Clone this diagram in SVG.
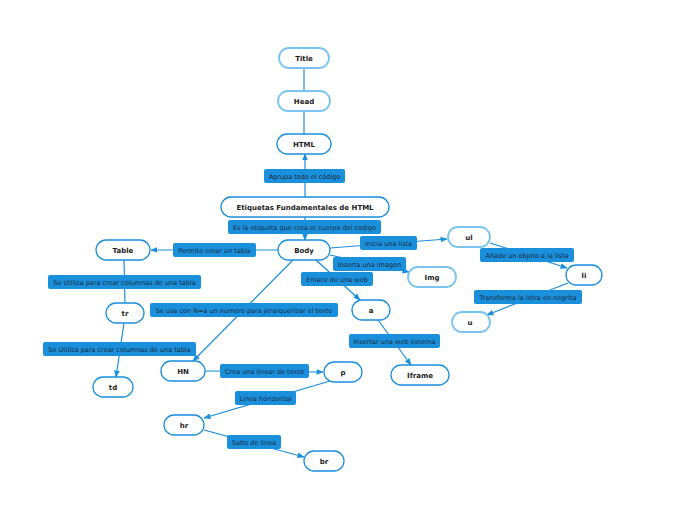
<svg xmlns="http://www.w3.org/2000/svg" width="697" height="520" viewBox="0 0 697 520">
<style>
.n{fill:#fff;stroke:#1a8fdc;stroke-width:1.3}
.nl{fill:#fff;stroke:#7cc4f0;stroke-width:1.8}
.nt{font-family:"DejaVu Sans",sans-serif;font-size:7px;font-weight:bold;fill:#222;text-anchor:middle}
.lb{fill:#1a8fdc}
.lt{font-family:"DejaVu Sans",sans-serif;font-size:6.5px;fill:#1d2d3d;text-anchor:middle}
.c{stroke:#1a8fdc;stroke-width:1.2;fill:none}
</style>
<defs><marker id="a" viewBox="0 0 10 10" refX="9" refY="5" markerWidth="6" markerHeight="6" orient="auto"><path d="M0,1L10,5L0,9z" fill="#1a8fdc"/></marker></defs>
<g id="connectors">
<path class="c" d="M304,68V91"/>
<path class="c" d="M304,111V134"/>
<path class="c" d="M305,197V154" marker-end="url(#a)"/>
<path class="c" d="M305,217V240" marker-end="url(#a)"/>
<path class="c" d="M278,250H151" marker-end="url(#a)"/>
<path class="c" d="M124,260L125,303"/>
<path class="c" d="M124,323L116,377" marker-end="url(#a)"/>
<path class="c" d="M293,260L193,361" marker-end="url(#a)"/>
<path class="c" d="M330,248L447,239" marker-end="url(#a)"/>
<path class="c" d="M330,255L409,272" marker-end="url(#a)"/>
<path class="c" d="M316,260L360,300" marker-end="url(#a)"/>
<path class="c" d="M490,243L567,268" marker-end="url(#a)"/>
<path class="c" d="M568,283L487,315" marker-end="url(#a)"/>
<path class="c" d="M378,320L411,365" marker-end="url(#a)"/>
<path class="c" d="M205,371L323,372" marker-end="url(#a)"/>
<path class="c" d="M330,381L204,418" marker-end="url(#a)"/>
<path class="c" d="M204,430L304,457" marker-end="url(#a)"/>
</g>
<g id="n-title"><rect class="nl" x="279" y="48" width="50" height="20" rx="10"/><text class="nt" x="304" y="61">Title</text></g>
<g id="n-head"><rect class="nl" x="278" y="91" width="52" height="20" rx="10"/><text class="nt" x="304" y="104">Head</text></g>
<g id="n-html"><rect class="n" x="277" y="134" width="54" height="20" rx="10"/><text class="nt" x="304" y="147">HTML</text></g>
<g id="n-root"><rect class="n" x="221" y="197" width="168" height="20" rx="10"/><text class="nt" x="305" y="210">Etiquetas Fundamentales de HTML</text></g>
<g id="n-body"><rect class="n" x="278" y="240" width="52" height="20" rx="10"/><text class="nt" x="304" y="253">Body</text></g>
<g id="n-table"><rect class="n" x="96" y="240" width="54" height="20" rx="10"/><text class="nt" x="123" y="253">Table</text></g>
<g id="n-tr"><rect class="n" x="106" y="303" width="38" height="20" rx="10"/><text class="nt" x="125" y="316">tr</text></g>
<g id="n-td"><rect class="n" x="93" y="377" width="40" height="20" rx="10"/><text class="nt" x="113" y="390">td</text></g>
<g id="n-hn"><rect class="n" x="161" y="361" width="44" height="20" rx="10"/><text class="nt" x="183" y="374">HN</text></g>
<g id="n-p"><rect class="n" x="324" y="362" width="38" height="20" rx="10"/><text class="nt" x="343" y="375">p</text></g>
<g id="n-iframe"><rect class="n" x="391" y="365" width="58" height="20" rx="10"/><text class="nt" x="420" y="378">Iframe</text></g>
<g id="n-a"><rect class="n" x="352" y="300" width="38" height="20" rx="10"/><text class="nt" x="371" y="313">a</text></g>
<g id="n-img"><rect class="nl" x="408" y="267" width="48" height="20" rx="10"/><text class="nt" x="432" y="280">Img</text></g>
<g id="n-ul"><rect class="nl" x="448" y="227" width="42" height="20" rx="10"/><text class="nt" x="469" y="240">ul</text></g>
<g id="n-li"><rect class="n" x="566" y="265" width="36" height="20" rx="10"/><text class="nt" x="584" y="278">li</text></g>
<g id="n-u"><rect class="nl" x="452" y="312" width="38" height="20" rx="10"/><text class="nt" x="470" y="325">u</text></g>
<g id="n-hr"><rect class="n" x="164" y="415" width="40" height="20" rx="10"/><text class="nt" x="184" y="428">hr</text></g>
<g id="n-br"><rect class="n" x="304" y="451" width="40" height="20" rx="10"/><text class="nt" x="324" y="464">br</text></g>
<g id="labels">
<rect class="lb" x="264" y="169" width="81" height="14" rx="2"/><text class="lt" x="304.5" y="178.5">Agrupa todo el código</text>
<rect class="lb" x="228" y="220" width="153" height="14" rx="2"/><text class="lt" x="304.5" y="229.5">Es la etiqueta que crea el cuerpo del codigo</text>
<rect class="lb" x="173" y="243" width="83" height="14" rx="2"/><text class="lt" x="214.5" y="252.5">Permite crear un tabla</text>
<rect class="lb" x="48" y="275" width="153" height="14" rx="2"/><text class="lt" x="124.5" y="284.5">Se Utiliza para crear columnas de una tabla</text>
<rect class="lb" x="43" y="342" width="153" height="14" rx="2"/><text class="lt" x="119.5" y="351.5">Se Utiliza para crear columnas de una tabla</text>
<rect class="lb" x="150" y="303" width="188" height="14" rx="2"/><text class="lt" x="244" y="312.5">Se usa con N=a un numero para jerarquerizar el texto</text>
<rect class="lb" x="360" y="236" width="57" height="14" rx="2"/><text class="lt" x="388.5" y="245.5">Inicia una lista</text>
<rect class="lb" x="333" y="257" width="73" height="14" rx="2"/><text class="lt" x="369.5" y="266.5">Inserta una imagen</text>
<rect class="lb" x="301" y="272" width="72" height="14" rx="2"/><text class="lt" x="337" y="281.5">Enlace de una web</text>
<rect class="lb" x="480" y="248" width="94" height="14" rx="2"/><text class="lt" x="527" y="257.5">Añade un objeto a la lista</text>
<rect class="lb" x="474" y="290" width="108" height="14" rx="2"/><text class="lt" x="528" y="299.5">Transforma la letra en negrita</text>
<rect class="lb" x="349" y="334" width="91" height="14" rx="2"/><text class="lt" x="394.5" y="343.5">Insertar una web externa</text>
<rect class="lb" x="220" y="364" width="89" height="14" rx="2"/><text class="lt" x="264.5" y="373.5">Crea una linear de texto</text>
<rect class="lb" x="235" y="391" width="61" height="14" rx="2"/><text class="lt" x="265.5" y="400.5">Linea horizontal</text>
<rect class="lb" x="227" y="435" width="54" height="14" rx="2"/><text class="lt" x="254" y="444.5">Salto de linea</text>
</g>
</svg>
